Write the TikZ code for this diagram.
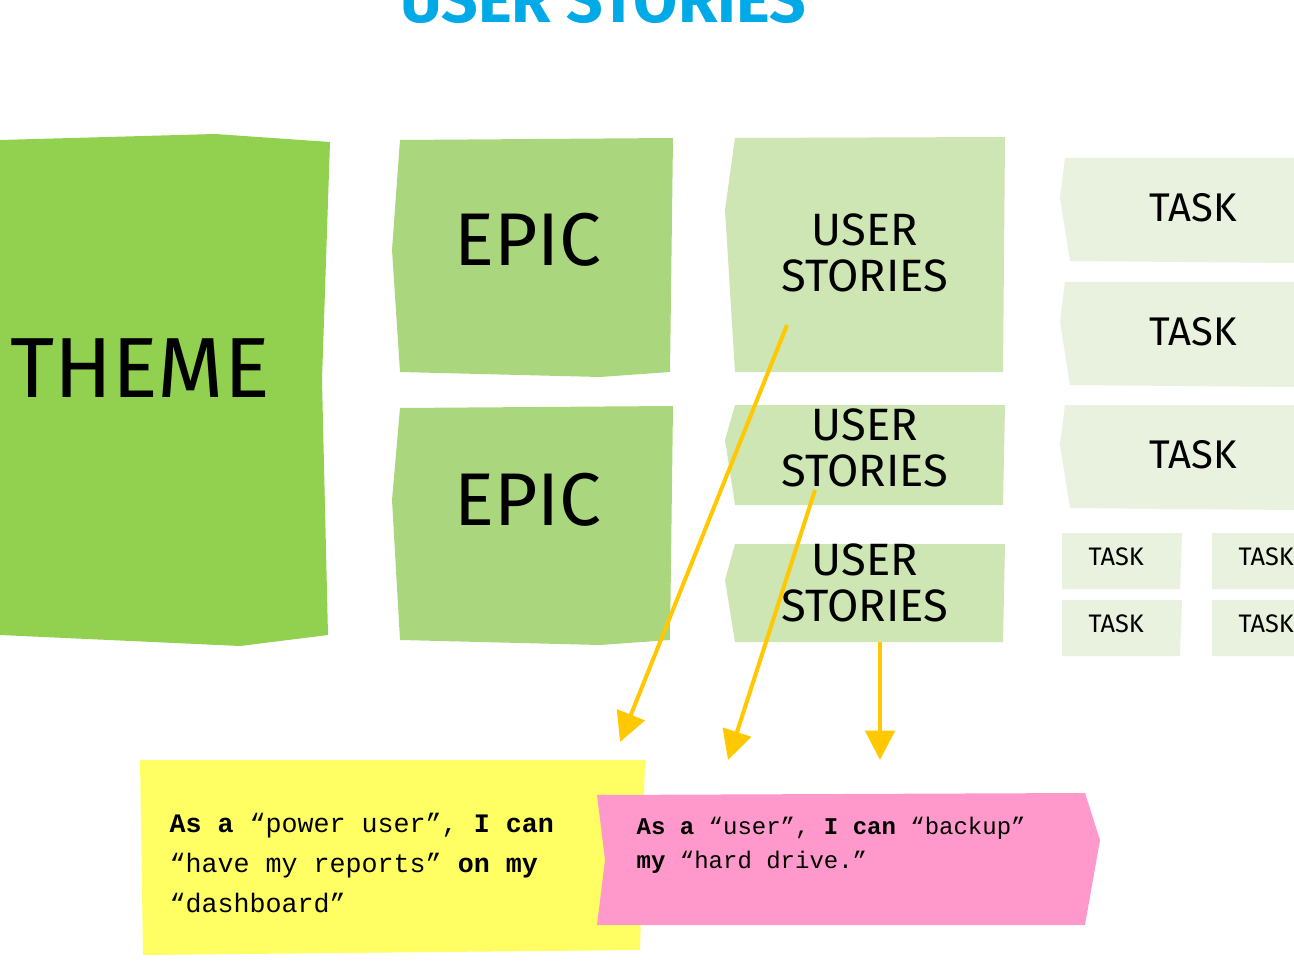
\documentclass[tikz,border=0pt]{standalone}
\usepackage{fontspec}
\setmainfont{Liberation Mono}
\newfontfamily\hand{Fira Sans}
\usetikzlibrary{arrows.meta}
\definecolor{theme}{RGB}{146,208,80}
\definecolor{epic}{RGB}{170,215,125}
\definecolor{story}{RGB}{205,230,180}
\definecolor{task}{RGB}{232,242,222}
\definecolor{ttl}{RGB}{0,170,230}
\definecolor{arr}{RGB}{255,200,0}
\definecolor{ynote}{RGB}{255,255,100}
\definecolor{pnote}{RGB}{255,153,204}
\tikzset{lbl/.style={font=\hand, text=black, align=center},
 conn/.style={arr, line width=3pt, -{Triangle[length=22pt,width=22pt]}}}
\begin{document}
\begin{tikzpicture}[x=0.75pt,y=-0.75pt]
\useasboundingbox (0,0) rectangle (1294,962);
\node[font=\hand\fontsize{48}{48}\selectfont\bfseries, text=ttl] (title) at (603,0) {USER STORIES};
% theme
\fill[theme] (0,140)--(215,134)--(330,142)--(322,380)--(328,635)--(240,646)--(0,635)--cycle;
\node[lbl, font=\hand\fontsize{64}{64}\selectfont] (theme) at (140,368) {THEME};
% epics
\fill[epic] (400,140)--(673,138)--(670,372)--(600,377)--(400,372)--(392,250)--cycle;
\node[lbl, font=\hand\fontsize{56}{56}\selectfont] (e1) at (528,240) {EPIC};
\fill[epic] (400,408)--(673,406)--(670,640)--(600,645)--(400,640)--(392,500)--cycle;
\node[lbl, font=\hand\fontsize{56}{56}\selectfont] (e2) at (528,500) {EPIC};
% stories
\fill[story] (735,138)--(1005,137)--(1003,372)--(735,372)--(725,210)--cycle;
\node[lbl, font=\hand\fontsize{34}{34}\selectfont] (s1) at (865,253) {USER\\STORIES};
\fill[story] (735,405)--(1005,405)--(1003,505)--(735,505)--(725,440)--cycle;
\node[lbl, font=\hand\fontsize{34}{34}\selectfont] (s2) at (865,448) {USER\\STORIES};
\fill[story] (735,544)--(1005,544)--(1003,642)--(735,642)--(725,580)--cycle;
\node[lbl, font=\hand\fontsize{34}{34}\selectfont] (s3) at (865,583) {USER\\STORIES};
% tasks
\foreach \y/\n in {158/t1,282/t2,405/t3}{
 \fill[task] (1065,\y)--(1294,\y)--(1294,\y+105)--(1070,\y+103)--(1060,\y+40)--cycle;
 \node[lbl, font=\hand\fontsize{30}{30}\selectfont, anchor=west] (\n) at (1145,\y+50) {TASK};}
\foreach \x/\y/\n in {1062/533/a,1212/533/b,1062/600/c,1212/600/d}{
 \fill[task] (\x,\y)--(\x+120,\y)--(\x+118,\y+56)--(\x,\y+56)--cycle;
 \node[lbl, font=\hand\fontsize{19}{19}\selectfont, anchor=west] (k\n) at (\x+22,\y+24) {TASK};}
% notes
\fill[ynote] (140,760)--(645,760)--(640,950)--(143,955)--cycle;
\node[anchor=north west, align=left, font=\fontsize{20}{30}\selectfont] (yn) at (165,808) {\textbf{As a} “power user”, \textbf{I can}\\ “have my reports” \textbf{on my}\\ “dashboard”};
\fill[pnote] (597,795)--(1085,793)--(1100,840)--(1085,925)--(597,925)--(605,860)--cycle;
\node[anchor=north west, align=left, font=\fontsize{18}{26}\selectfont] (pn) at (632,812) {\textbf{As a} “user”, \textbf{I can} “backup”\\\textbf{my} “hard drive.”};
% arrows
\coordinate (a1s) at (787,325); \coordinate (a1e) at (620,742);
\coordinate (a2s) at (815,490); \coordinate (a2e) at (728,760);
\coordinate (a3s) at (880,642); \coordinate (a3e) at (880,760);
\draw[conn] (a1s)--(a1e);
\draw[conn] (a2s)--(a2e);
\draw[conn] (a3s)--(a3e);
\end{tikzpicture}
\end{document}
